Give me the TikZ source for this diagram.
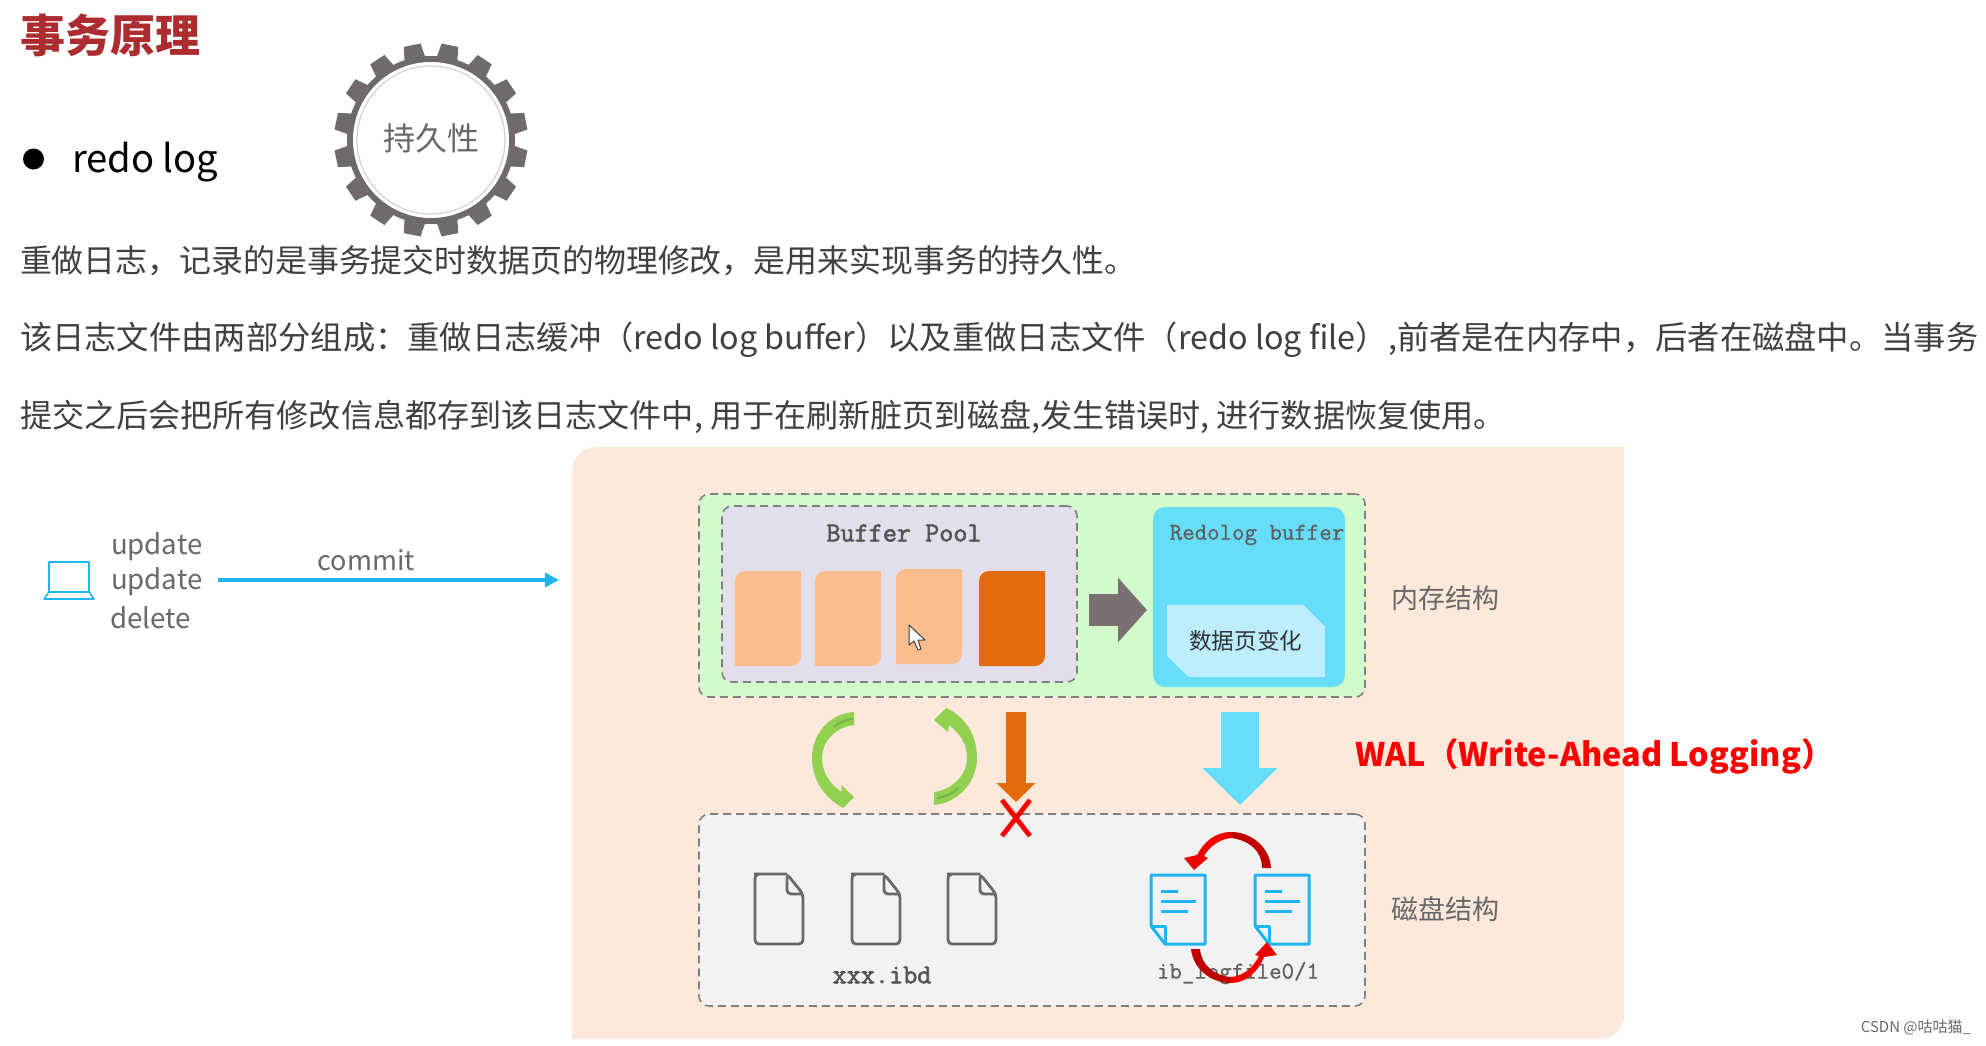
\documentclass[tikz,border=0pt]{standalone}
\usepackage{fontspec}
\setmainfont{Noto Sans CJK SC}
\setmonofont{Latin Modern Mono}
\usepackage{xcolor}
\usetikzlibrary{positioning,shapes.misc,arrows.meta}
\definecolor{titlered}{RGB}{172,44,48}
\definecolor{bodygray}{RGB}{64,64,64}
\definecolor{softgray}{RGB}{104,104,104}
\definecolor{gearcolor}{RGB}{112,106,110}
\definecolor{peach}{RGB}{253,233,220}
\definecolor{memgreen}{RGB}{210,252,203}
\definecolor{poolviolet}{RGB}{227,222,236}
\definecolor{pagelight}{RGB}{251,189,141}
\definecolor{pagedark}{RGB}{227,108,10}
\definecolor{logcyan}{RGB}{102,221,249}
\definecolor{changecyan}{RGB}{189,238,255}
\definecolor{diskgray}{RGB}{242,242,242}
\definecolor{commitblue}{RGB}{30,181,240}
\definecolor{arrowgray}{RGB}{122,111,115}
\definecolor{leafgreen}{RGB}{146,208,80}
\definecolor{leafdark}{RGB}{118,178,68}
\definecolor{ringred}{RGB}{240,0,0}
\definecolor{ringdark}{RGB}{192,0,0}
\begin{document}
\begin{tikzpicture}[
  x=0.5pt, y=-0.5pt,
  every node/.style={inner sep=0pt, outer sep=0pt},
  bodytext/.style={anchor=base west, text=bodygray, font=\fontsize{15.95}{19}\selectfont},
  sidetext/.style={text=softgray, font=\fontsize{13.8}{17}\selectfont},
  labeltext/.style={text=softgray, font=\fontsize{13.5}{16}\selectfont},
  monobold/.style={text=softgray!80!black, font=\fontsize{13.7}{16}\selectfont\ttfamily\addfontfeature{FakeBold=2}},
  monoplain/.style={text=softgray!90!black, font=\fontsize{12.1}{14}\selectfont\ttfamily\addfontfeature{FakeBold=0.7}},
  dashbox/.style={rectangle, rounded corners=5pt, draw=black!50, line width=0.8pt, dash pattern=on 4pt off 2.5pt},
  pagecard/.pic={
    \fill[#1] (0,95) [rounded corners=5pt] -- (0,0) [sharp corners] -- (66,0) [rounded corners=5pt] -- (66,95) [sharp corners] -- cycle;
  },
  fileicon/.pic={
    \draw[softgray, line width=1.4pt, rounded corners=2pt] (32,0) -- (3,0) -- (0,0) -- (0,70) -- (48,70) -- (48,20) -- (32,0) -- (32,20) -- (48,20);
  },
  logicon/.pic={
    \draw[commitblue, line width=1.5pt, line join=round] (0,0) -- (54,0) -- (54,69) -- (14,69) -- (0,51) -- cycle;
    \draw[commitblue, line width=1.5pt, line join=round] (0,51) -- (14,51) -- (14,69);
    \draw[commitblue, line width=1.5pt] (10,16) -- (27,16) (10,26) -- (45,26) (10,36) -- (37,36);
  }
]
  \useasboundingbox (0,0) rectangle (1986,1045);
  \fill[white] (0,0) rectangle (1986,1045);

  \node[text=titlered, anchor=west, font=\fontsize{22.5}{26}\bfseries\selectfont] (maintitle) at (20,35) {事务原理};
  \node[circle, fill=black, minimum size=10.5pt] (dot) at (33.5,159) {};
  \node[anchor=west, text=black, font=\fontsize{19.1}{23}\selectfont] (redo) at (72,162) {redo log};

  \begin{scope}[shift={(431,140)}]
    \fill[gearcolor] (0,0) circle[radius=84];
    \foreach \ang in {11.25,33.75,...,349} {
      \fill[gearcolor] (\ang-7.5:82) -- (\ang-5:97) -- (\ang+5:97) -- (\ang+7.5:82) -- cycle;
    }
    \node[circle, fill=white, minimum size=78pt] (durable) at (0,0) {};
    \draw[black!18, line width=0.6pt] (0,0) circle[radius=74];
    \node[text=softgray, font=\fontsize{16}{19}\selectfont] (durablelabel) at (0,-2) {持久性};
  \end{scope}

  \node[bodytext] (lineone) at (20,272) {重做日志，记录的是事务提交时数据页的物理修改，是用来实现事务的持久性。};
  \node[bodytext, font=\fontsize{16.15}{19}\selectfont] (linetwo) at (20,349) {该日志文件由两部分组成：重做日志缓冲（redo log buffer）以及重做日志文件（redo log file）,前者是在内存中，后者在磁盘中。当事务};
  \node[bodytext, font=\fontsize{16.05}{19}\selectfont] (linethree) at (20,427) {提交之后会把所有修改信息都存到该日志文件中, 用于在刷新脏页到磁盘,发生错误时, 进行数据恢复使用。};

  \draw[commitblue, line width=0.8pt, line join=round] (49,592) -- (49,562) -- (89,562) -- (89,592) -- (94,599) -- (44,599) -- (49,592) -- (89,592);
  \node[sidetext, anchor=west] (opsone) at (111,547) {update};
  \node[sidetext, anchor=west] (opstwo) at (111,582) {update};
  \node[sidetext, anchor=west] (opsthree) at (110,617.5) {delete};

  \coordinate (commitstart) at (218,580);
  \coordinate (commitend) at (559,580);
  \draw[commitblue, line width=1.8pt, -{Triangle[length=7pt,width=7pt]}] (commitstart) -- node[pos=0.435, above=4.5pt, sidetext, font=\fontsize{13.5}{17}\selectfont] (commitlabel) {commit} (commitend);

  \fill[peach] (572,1039) -- (572,470) [rounded corners=12pt] -- (572,447) [sharp corners] -- (1624,447) -- (1624,1020) [rounded corners=12pt] -- (1624,1039) [sharp corners] -- cycle;

  \node[dashbox, fill=memgreen, minimum width=333pt, minimum height=101.5pt] (memory) at (1032,595.5) {};
  \node[dashbox, fill=poolviolet, minimum width=177.5pt, minimum height=88pt] (pool) at (899.5,594) {};
  \node[monobold] (pooltitle) at (904,533) {Buffer Pool};

  \pic at (735,571) {pagecard=pagelight};
  \pic at (815,571) {pagecard=pagelight};
  \pic at (896,569) {pagecard=pagelight};
  \pic at (979,571) {pagecard=pagedark};

  \draw[fill=white, draw=black!75, line width=0.5pt, line join=round] (909,625) -- (909,645) -- (914,641) -- (918,650) -- (921,649) -- (918,640) -- (925,640) -- cycle;

  \coordinate (pushstart) at (1089,610);
  \coordinate (pushend) at (1147,610);
  \draw[arrowgray, line width=16pt, -{Triangle[length=14.5pt,width=31.5pt]}] (pushstart) -- (pushend);

  \node[rectangle, rounded corners=6pt, fill=logcyan, minimum width=96pt, minimum height=90pt] (logbuffer) at (1249,597) {};
  \node[monoplain] (logtitle) at (1257,535) {Redolog buffer};
  \node[fill=changecyan, chamfered rectangle, chamfered rectangle corners={north east,south west}, chamfered rectangle sep=5.5pt, text=black!80, minimum width=79pt, minimum height=36pt, font=\fontsize{11.3}{14}\selectfont] (change) at (1245.8,641) {数据页变化};

  \node[labeltext, anchor=west] (memlabel) at (1391,598) {内存结构};
  \node[text=red, anchor=west, font=\fontsize{16.2}{20}\bfseries\selectfont] (wal) at (1355,756) {WAL（Write-Ahead Logging）};

  \node[dashbox, fill=diskgray, minimum width=333pt, minimum height=96pt] (disk) at (1032,910) {};
  \node[labeltext, anchor=west] (disklabel) at (1391,909) {磁盘结构};

  \fill[leafgreen] (854,712) .. controls (828,714) and (812,735) .. (812,758) .. controls (812,780) and (825,798) .. (843,808) -- (854,797) -- (841,785) -- (842,792) .. controls (830,785) and (822,772) .. (822,758) .. controls (822,742) and (835,727) .. (854,725) -- cycle;
  \fill[leafgreen] (946,708) .. controls (965,716) and (977,735) .. (977,758) .. controls (977,782) and (958,803) .. (934,805) -- (934,792) .. controls (952,790) and (967,775) .. (967,758) .. controls (967,744) and (960,733) .. (949,725) -- (948,732) -- (934,720) -- cycle;
  \draw[leafdark, line width=1pt] (853,719) .. controls (845,720) and (838,723) .. (834,727);
  \draw[leafdark, line width=1pt] (937,798) .. controls (946,797) and (953,793) .. (958,788);

  \coordinate (flushtop) at (1016,712);
  \coordinate (flushtip) at (1016,802);
  \draw[pagedark, line width=10pt, -{Triangle[length=9.5pt,width=19pt]}] (flushtop) -- (flushtip);
  \coordinate (writetop) at (1240,712);
  \coordinate (writetip) at (1240,805);
  \draw[logcyan, line width=19pt, -{Triangle[length=18.5pt,width=36.5pt]}] (writetop) -- (writetip);

  \draw[red, line width=2.4pt] (1002,800) -- (1030,836) (1030,800) -- (1002,836);

  \pic at (755,874) {fileicon};
  \pic at (852,874) {fileicon};
  \pic at (948,874) {fileicon};
  \node[monobold] (ibd) at (882,975) {xxx.ibd};

  \pic at (1151,875) {logicon};
  \pic at (1255,875) {logicon};
  \node[monoplain] (logfile) at (1238,973) {ib\_logfile0/1};

  \fill[ringdark] (1271,868) .. controls (1270,848) and (1252,832) .. (1231,832) -- (1231,838) .. controls (1248,840) and (1262,850) .. (1262,868) -- cycle;
  \fill[ringred] (1231,832) .. controls (1215,832) and (1204,842) .. (1197,855) -- (1184,858) -- (1194,870) -- (1208,858) -- (1204,856) .. controls (1210,846) and (1220,839) .. (1231,838) -- cycle;
  \fill[ringdark] (1191,949) .. controls (1193,968) and (1210,983) .. (1231,983) -- (1231,977) .. controls (1215,976) and (1201,965) .. (1200,949) -- cycle;
  \fill[ringred] (1231,983) .. controls (1246,983) and (1258,972) .. (1264,957) -- (1277,955) -- (1267,942) -- (1255,955) -- (1259,956) .. controls (1253,968) and (1243,976) .. (1231,977) -- cycle;

  \node[text=softgray, anchor=east, font=\fontsize{7.5}{9}\selectfont] (watermark) at (1971,1027) {CSDN @咕咕猫\_};
\end{tikzpicture}
\end{document}
